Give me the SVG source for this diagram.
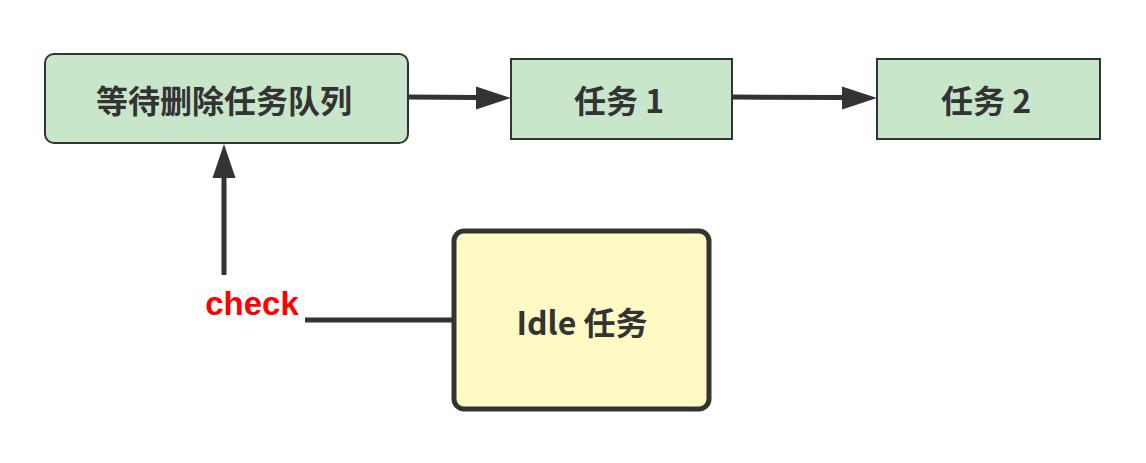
<svg xmlns="http://www.w3.org/2000/svg" width="1146" height="463" viewBox="0 0 1146 463">
<style>
.box{fill:#c8e6c9;stroke:#333;stroke-width:2}
.lbl{font-family:"Noto Sans CJK SC","Liberation Sans",sans-serif;font-weight:bold;font-size:32px;fill:#333;text-anchor:middle;dominant-baseline:central}
.edge{stroke:#333;stroke-width:5;fill:none}
.head{fill:#333}
</style>
<rect width="1146" height="463" fill="#fff"/>
<g id="queue"><rect class="box" x="45" y="54" width="363" height="89" rx="9"/><text class="lbl" x="224" y="99">等待删除任务队列</text></g>
<g id="task1"><rect class="box" x="511" y="59" width="221" height="80"/><text class="lbl" x="619" y="99">任务 1</text></g>
<g id="task2"><rect class="box" x="877" y="59" width="223" height="80"/><text class="lbl" x="986" y="99">任务 2</text></g>
<g id="idle"><rect x="454" y="231" width="255" height="178" rx="10" fill="#fff9c4" stroke="#333" stroke-width="5"/><text class="lbl" x="582" y="321">Idle 任务</text></g>
<g id="connectors">
<line class="edge" x1="408" y1="97" x2="478" y2="97.5"/>
<polygon class="head" points="511,98 476,86.5 476,109.5"/>
<line class="edge" x1="732" y1="97" x2="843" y2="97.5"/>
<polygon class="head" points="877,98 842,86.5 842,109.5"/>
<line class="edge" x1="224" y1="275" x2="224" y2="175"/>
<polygon class="head" points="224,144 212.5,178 235.5,178"/>
<line class="edge" x1="305" y1="320" x2="454" y2="320"/>
<text x="252" y="303" font-family="Liberation Sans,sans-serif" font-weight="bold" font-size="33" fill="#ff0000" text-anchor="middle" dominant-baseline="central">check</text>
</g>
</svg>
